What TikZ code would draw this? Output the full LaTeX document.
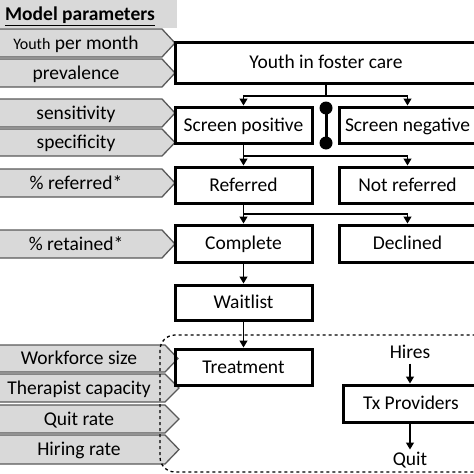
\documentclass[tikz,border=0pt]{standalone}
\usepackage{fontspec}
\setmainfont{Carlito}
\usetikzlibrary{arrows.meta}
\definecolor{pfill}{HTML}{D9D9D9}
\definecolor{pline}{HTML}{595959}
\tikzset{
  capc/.style={text height=12.6pt, text depth=0pt},
  box/.style={draw=black, line width=3pt, minimum width=137pt, minimum height=36pt, inner sep=0pt, capc, font=\fontsize{19.5}{22}\selectfont},
  lbl/.style={inner sep=0pt, capc, font=\fontsize{19.5}{22}\selectfont},
  ptxt/.style={inner sep=0pt, capc, font=\fontsize{19.5}{22}\selectfont},
  pshape/.style={fill=pfill, draw=pline, line width=1.3pt},
  conn/.style={line width=1.3pt},
  arr/.style={line width=1.3pt, -{Triangle[length=7pt,width=8pt]}},
}
\begin{document}
\begin{tikzpicture}[x=1pt,y=-1pt]
\useasboundingbox (0,0) rectangle (474,474);
% header
\fill[pfill] (0,0) rectangle (177,28);
\node[anchor=west, inner sep=0pt, capc, font=\fontsize{19.5}{22}\selectfont\bfseries] (hdr) at (5,14) {\underline{Model parameters}};
% parameter chevrons
\path[pshape] (-5,29) -- (162,29) -- (175,43) -- (162,57) -- (-5,57) -- cycle;
\node[ptxt] (p1) at (76,43) {{\fontsize{16}{18}\selectfont Youth} per month};
\path[pshape] (-5,59) -- (162,59) -- (175,73) -- (162,87) -- (-5,87) -- cycle;
\node[ptxt] (p2) at (76,73) {prevalence};
\path[pshape] (-5,99) -- (162,99) -- (175,113) -- (162,127) -- (-5,127) -- cycle;
\node[ptxt] (p3) at (76,113) {sensitivity};
\path[pshape] (-5,129) -- (162,129) -- (175,142.5) -- (162,156) -- (-5,156) -- cycle;
\node[ptxt] (p4) at (76,142.5) {specificity};
\path[pshape] (-5,169) -- (162,169) -- (175,183) -- (162,197) -- (-5,197) -- cycle;
\node[ptxt] (p5) at (76,183) {\% referred*};
\path[pshape] (-5,230) -- (162,230) -- (175,244) -- (162,258) -- (-5,258) -- cycle;
\node[ptxt] (p6) at (76,244) {\% retained*};
\path[pshape] (-5,345) -- (165,345) -- (178,358.5) -- (165,372) -- (-5,372) -- cycle;
\node[ptxt] (p7) at (79,358.5) {Workforce size};
\path[pshape] (-5,374) -- (165,374) -- (179,388) -- (165,402) -- (-5,402) -- cycle;
\node[ptxt] (p8) at (79,388) {Therapist capacity};
\path[pshape] (-5,405) -- (165,405) -- (179,419) -- (165,433) -- (-5,433) -- cycle;
\node[ptxt] (p9) at (79,419) {Quit rate};
\path[pshape] (-5,435) -- (165,435) -- (179,449.5) -- (165,464) -- (-5,464) -- cycle;
\node[ptxt] (p10) at (79,449.5) {Hiring rate};
% dashed region
\draw[dashed, line width=1.3pt, rounded corners=15pt] (160,335) rectangle (495,472);
% boxes
\node[box, minimum width=302pt, minimum height=41pt] (youth) at (326,62.5) {Youth in foster care};
\node[box] (sp) at (243.5,125) {Screen positive};
\node[box] (sn) at (407.5,125) {Screen negative};
\node[box] (ref) at (243.5,185) {Referred};
\node[box] (nref) at (407.5,185) {Not referred};
\node[box, minimum height=37pt] (comp) at (243.5,243.5) {Complete};
\node[box, minimum height=37pt] (decl) at (407.5,243.5) {Declined};
\node[box, minimum height=35pt] (wait) at (243.5,302.5) {Waitlist};
\node[box] (treat) at (243.5,367) {Treatment};
\node[box, minimum width=136pt, minimum height=37pt] (tx) at (411,403.5) {Tx Providers};
\node[lbl] (hires) at (410,352) {Hires};
\node[lbl] (quit) at (410,459) {Quit};
% barbell
\coordinate (b1) at (326,108);
\coordinate (b2) at (326,143);
\draw[line width=3pt] (b1) -- (b2);
\fill (b1) circle (6.5pt);
\fill (b2) circle (6.5pt);
% connectors
\coordinate (j1) at (326,96);
\draw[conn] (youth.south) -- (j1);
\draw[arr] (j1) -| (sp.north);
\draw[arr] (j1) -| (sn.north);
\coordinate (j2) at (243.5,156);
\draw[conn] (sp.south) -- (j2);
\draw[arr] (j2) -- (ref.north);
\draw[arr] (j2) -| (nref.north);
\coordinate (j3) at (243.5,214);
\draw[conn] (ref.south) -- (j3);
\draw[arr] (j3) -- (comp.north);
\draw[arr] (j3) -| (decl.north);
\draw[arr] (comp.south) -- (wait.north);
\draw[arr] (wait.south) -- (treat.north);
\draw[arr] (hires.south) ++(0,5) -- (tx.north -| hires.south);
\draw[arr] (tx.south -| quit.north) -- ([yshift=3pt]quit.north);
\end{tikzpicture}
\end{document}
